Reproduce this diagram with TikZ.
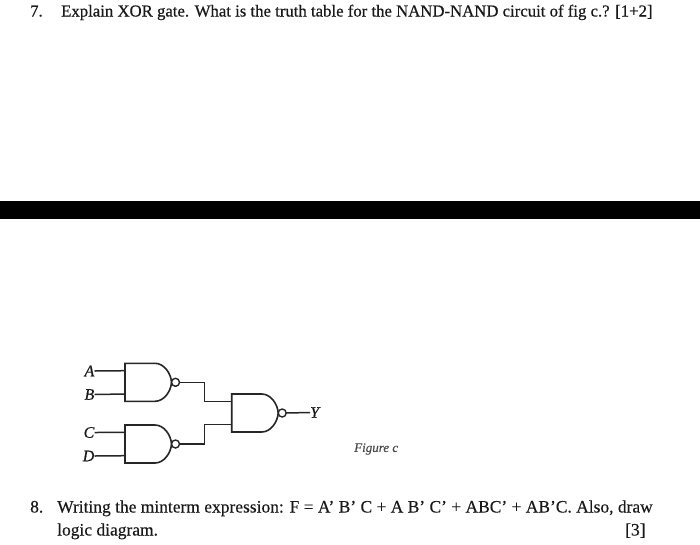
\documentclass[tikz,border=0pt]{standalone}
\usepackage{fontspec}
\setmainfont{Liberation Serif}
\newfontfamily\docheavy[FakeBold=0.5]{Liberation Serif}
\newfontfamily\doclight[FakeBold=0.25]{Liberation Serif}
\newfontfamily\labelfont[FakeBold=0.6]{Liberation Serif Italic}
\newfontfamily\figfont[FakeBold=0.4]{Liberation Serif Italic}
\begin{document}
\begin{tikzpicture}[x=1pt,y=-1pt,
  wire/.style={line width=1.5pt,color=black!85},
  gatebody/.style={line width=1.6pt,color=black!85},
  bubble/.style={line width=1.4pt,color=black!85,fill=white},
  toptext/.style={anchor=base west,inner sep=0pt,font=\docheavy\fontsize{16.75}{18}\selectfont,text=black!90},
  doc/.style={anchor=base west,inner sep=0pt,font=\doclight\fontsize{17.45}{18}\selectfont,text=black!90},
  inlabel/.style={anchor=east,inner sep=0pt,font=\labelfont\fontsize{16}{18}\selectfont,text=black!90},
  nandgate/.pic={
    \draw[gatebody] (30,-19) -- (0,-19) -- (0,19) -- (30,19)
       .. controls (39,19) and (46,9) .. (46.5,0)
       .. controls (46,-9) and (39,-19) .. (30,-19) -- cycle;
    \draw[bubble] (50.5,0) circle[radius=4];
    \coordinate (-i1) at (0,-11.6);
    \coordinate (-i2) at (0,11.7);
    \coordinate (-out) at (54.5,0);
  }]
\useasboundingbox (0,0) rectangle (700,544);
\fill[white] (0,0) rectangle (700,544);
\fill[black] (0,201) rectangle (700,219);
\node[toptext] (q7n) at (30,16.5) {7.};
\node[toptext] (q7) at (61,16.5) {Explain XOR gate. What is the truth table for the NAND-NAND circuit of fig c.? [1+2]};
\node[doc] (q8n) at (30,512.5) {8.};
\node[doc] (q8) at (57,512.5) {Writing the minterm expression: F = A’ B’ C + A B’ C’ + ABC’ + AB’C. Also, draw};
\node[doc] (q8b) at (57,535.5) {logic diagram.};
\node[doc] (q8m) at (625,535.5) {[3]};
\node[anchor=west,inner sep=0pt,font=\figfont\fontsize{13}{15}\selectfont,text=black!70] (figc) at (354,449) {Figure c};
\pic (g1) at (125,382.3) {nandgate};
\pic (g2) at (125,444) {nandgate};
\pic (g3) at (231.7,413) {nandgate};
\node[inlabel] (A) at (94.5,371) {A};
\node[inlabel] (B) at (94.5,394.5) {B};
\node[inlabel] (C) at (94.5,432.5) {C};
\node[inlabel] (D) at (94.5,456) {D};
\node[inlabel,anchor=west] (Y) at (310,412.5) {Y};
\coordinate (m1) at (204.3,382.3);
\coordinate (m2) at (204.3,444);
\draw[wire] (A.east) -- (g1-i1);
\draw[wire] (B.east) -- (g1-i2);
\draw[wire] (C.east) -- (g2-i1);
\draw[wire] (D.east) -- (g2-i2);
\draw[wire] (g1-out) -- (m1) |- (g3-i1);
\draw[wire] (g2-out) -- (m2) |- (g3-i2);
\draw[wire] (g3-out) -- (Y.west);
\end{tikzpicture}
\end{document}
